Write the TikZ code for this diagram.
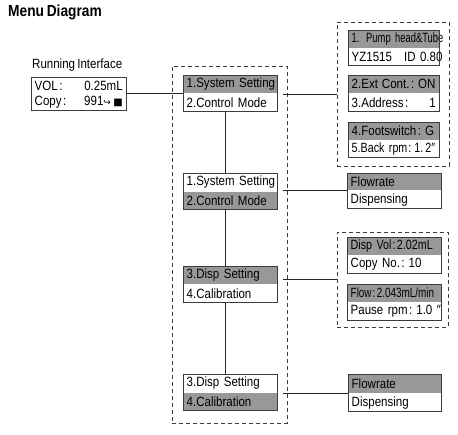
\documentclass[tikz,border=0pt]{standalone}
\usepackage{fontspec}
\setmainfont{Liberation Sans}[FakeStretch=0.86,WordSpace=0.7]
\newfontfamily\symf{DejaVu Sans}
\newcommand{\cc}{\hspace{1.5pt}:\hspace{4pt}}
\usetikzlibrary{positioning}
\definecolor{hl}{RGB}{152,152,152}
\definecolor{edge}{RGB}{60,60,60}
\begin{document}
\begin{tikzpicture}[x=1pt,y=-1pt,
  every node/.style={font=\fontsize{13.4}{14}\selectfont},
  row/.style={minimum height=18pt, inner xsep=3.5pt, inner ysep=0pt, text width=87pt, align=left, anchor=north west},
  hrow/.style={row, fill=hl},
  boxline/.style={draw=edge, line width=1pt},
  dashbox/.style={draw=edge, dashed, dash pattern=on 4pt off 3pt, line width=0.9pt, minimum width=#1, anchor=north west, inner sep=0pt},
  conn/.style={draw=black!85, line width=1pt}]
\useasboundingbox (0,0) rectangle (458,434);

\node[anchor=north west, inner sep=0pt, font=\fontsize{16}{18}\bfseries\selectfont] (title) at (8,5) {Menu Diagram};

% running interface
\node[anchor=south west, inner sep=0pt] (runlbl) at (32,71) {Running Interface};
\node[row, text width=88pt, minimum height=16.5pt] (r1) at (31,77) {\mbox{VOL\cc}\hfill 0.25mL\hspace*{5pt}};
\node[row, text width=88pt, minimum height=16.5pt] (r2) at (r1.south west) {\mbox{Copy\cc}\hfill 991{\symf\fontsize{9}{9}\selectfont ↪}\,{\symf\fontsize{10}{9}\selectfont ■}};
\draw[boxline] (r1.north west) rectangle (r2.south east);

% main dashed container
\node[dashbox=115pt, minimum height=357pt] (c0) at (172,66) {};

% box 1
\node[hrow] (b1t) at (183,75) {\mbox{1.System Setting}};
\node[row] (b1b) at (b1t.south west) {2.Control Mode};
\draw[boxline] (b1t.north west) rectangle (b1b.south east);

% box 2
\node[row] (b2t) at (183,173) {\mbox{1.System Setting}};
\node[hrow] (b2b) at (b2t.south west) {2.Control Mode};
\draw[boxline] (b2t.north west) rectangle (b2b.south east);

% box 3
\node[hrow] (b3t) at (183,266) {3.Disp Setting};
\node[row] (b3b) at (b3t.south west) {4.Calibration};
\draw[boxline] (b3t.north west) rectangle (b3b.south east);

% box 4
\node[row] (b4t) at (183,374) {3.Disp Setting};
\node[hrow] (b4b) at (b4t.south west) {4.Calibration};
\draw[boxline] (b4t.north west) rectangle (b4b.south east);

% right container 1
\node[dashbox=112pt, minimum height=144pt] (c1) at (337,22) {};
\node[hrow, text width=84pt, minimum height=17.5pt] (p1) at (348,30) {\mbox{\addfontfeature{FakeStretch=0.7}1. Pump head\&Tube}};
\node[row, text width=84pt, minimum height=17.5pt] (p2) at (p1.south west) {\mbox{YZ1515\hspace{12pt}ID 0.80}};
\draw[boxline] (p1.north west) rectangle (p2.south east);
\node[hrow, text width=84pt, minimum height=18pt] (e1) at (348,75) {\mbox{2.Ext\hspace{4pt}Cont.\cc ON}};
\node[row, text width=84pt, minimum height=18pt] (e2) at (e1.south west) {\mbox{3.Address\cc}\hfill 1\hspace*{6pt}};
\draw[boxline] (e1.north west) rectangle (e2.south east);
\node[hrow, text width=84pt, minimum height=17.5pt] (f1) at (348,122) {\mbox{4.Footswitch\cc G}};
\node[row, text width=84pt, minimum height=17.5pt] (f2) at (f1.south west) {\mbox{\addfontfeature{FakeStretch=0.8}5.Back rpm\hspace{1pt}:\hspace{3pt}1.\hspace{2pt}2″}};
\draw[boxline] (f1.north west) rectangle (f2.south east);

% flowrate box 1
\node[hrow, text width=87pt, minimum height=17pt] (w1) at (347,173) {Flowrate};
\node[row, text width=87pt, minimum height=18pt] (w2) at (w1.south west) {Dispensing};
\draw[boxline] (w1.north west) rectangle (w2.south east);

% right container 2
\node[dashbox=111pt, minimum height=95pt] (c2) at (337,232) {};
\node[hrow, text width=87pt, minimum height=18pt] (d1) at (347,237) {\mbox{\addfontfeature{FakeStretch=0.8}Disp Vol\hspace{1pt}:\hspace{1.5pt}2.02mL}};
\node[row, text width=87pt, minimum height=18pt] (d2) at (d1.south west) {\mbox{Copy No.\cc 10}};
\draw[boxline] (d1.north west) rectangle (d2.south east);
\node[hrow, text width=87pt, minimum height=18pt] (g1) at (347,284) {\mbox{\addfontfeature{FakeStretch=0.74}Flow\hspace{1pt}:\hspace{1.5pt}2.043mL/min}};
\node[row, text width=87pt, minimum height=18pt] (g2) at (g1.south west) {\mbox{Pause rpm\cc 1.0 ″}};
\draw[boxline] (g1.north west) rectangle (g2.south east);

% flowrate box 2
\node[hrow, text width=86pt, minimum height=19pt] (v1) at (348,374) {Flowrate};
\node[row, text width=86pt, minimum height=18pt] (v2) at (v1.south west) {Dispensing};
\draw[boxline] (v1.north west) rectangle (v2.south east);

% connectors
\coordinate (vx) at (225,0);
\coordinate (hx) at (283,0);
\draw[conn] (r1.south east) -- (r1.south east -| b1t.west);
\draw[conn] (c1.west -| hx) -- (c1.west);
\draw[conn] (w1.south west -| hx) -- (w1.south west);
\draw[conn] (c2.west -| hx) -- (c2.west);
\draw[conn] (v1.south west -| hx) -- (v1.south west);
\draw[conn] (b1b.south -| vx) -- (b2t.north -| vx);
\draw[conn] (b2b.south -| vx) -- (b3t.north -| vx);
\draw[conn] (b3b.south -| vx) -- (b4t.north -| vx);
\end{tikzpicture}
\end{document}
